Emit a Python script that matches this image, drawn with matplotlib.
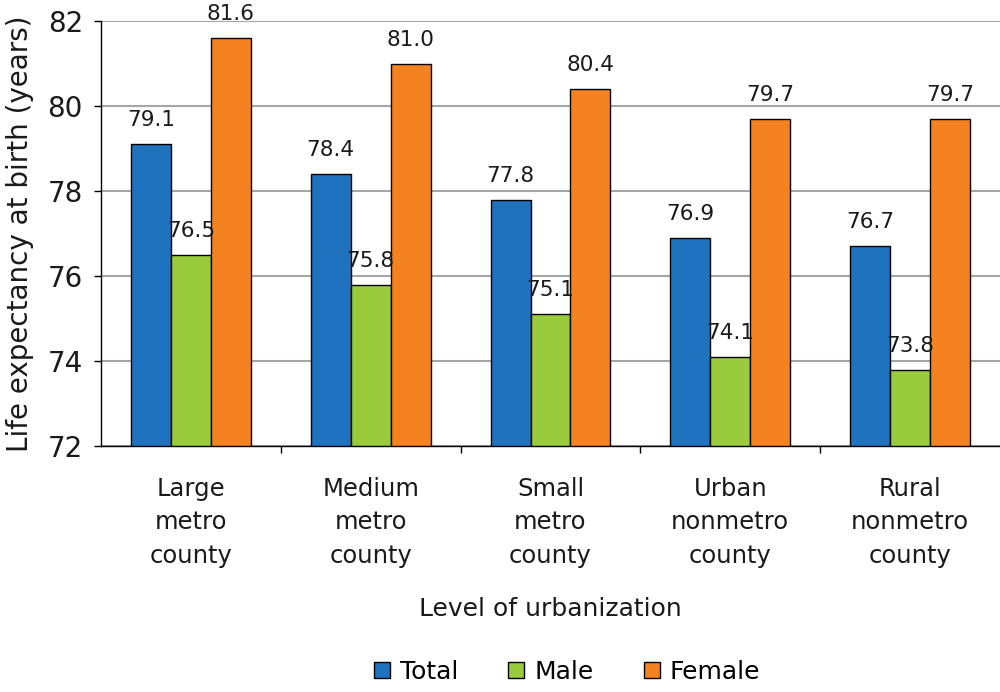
import matplotlib
matplotlib.use("Agg")
import matplotlib.pyplot as plt
import numpy as np

categories = ["Large\nmetro\ncounty", "Medium\nmetro\ncounty", "Small\nmetro\ncounty",
              "Urban\nnonmetro\ncounty", "Rural\nnonmetro\ncounty"]
total = [79.1, 78.4, 77.8, 76.9, 76.7]
male = [76.5, 75.8, 75.1, 74.1, 73.8]
female = [81.6, 81.0, 80.4, 79.7, 79.7]
series_names = ["Total", "Male", "Female"]
colors = ["#1F72BE", "#9ACB3C", "#F58220"]

plt.rcParams['font.family'] = ['DejaVu Sans']

fig = plt.figure(figsize=(10, 6.92), dpi=100)
ax = fig.add_axes([0.101, 0.3555, 0.899, 0.614])

x = np.arange(len(categories))
w = 0.222
series = [total, male, female]
bars_all = []
for i, (vals, name, c) in enumerate(zip(series, series_names, colors)):
    bars = ax.bar(x + (i - 1) * w, [v - 72 for v in vals], width=w, bottom=72,
                  color=c, edgecolor="black", linewidth=1.0, label=name, zorder=3)
    bars_all.append(bars)
    for xi, v in zip(x + (i - 1) * w, vals):
        ax.annotate(f"{v:.1f}", (xi, v), xytext=(0, 10), textcoords="offset points",
                    ha="center", va="bottom", fontsize=15.5, color="#1a1a1a", zorder=4)

ax.set_xlim(-0.5, len(categories) - 0.5)
ax.set_ylim(72, 82)
ax.set_yticks([72, 74, 76, 78, 80, 82])
ax.yaxis.grid(True, color="#A6A6A6", linewidth=1.5, zorder=0)
ax.set_axisbelow(True)
ax.set_xticks(x)
ax.set_xticklabels(categories, fontsize=17.5, color="#1a1a1a", linespacing=1.5)
ax.tick_params(axis="x", length=0, pad=22)
ax.set_xticks(np.arange(0.5, len(categories) - 0.5, 1), minor=True)
ax.tick_params(axis="x", which="minor", length=5, width=1, direction="out")
ax.tick_params(axis="y", labelsize=20, length=5, width=1, direction="out", pad=8,
               labelcolor="#1a1a1a")

for s in ["top", "right"]:
    ax.spines[s].set_visible(False)
for s in ["left", "bottom"]:
    ax.spines[s].set_color("black")
    ax.spines[s].set_linewidth(1.0)

ax.set_ylabel("Life expectancy at birth (years)", fontsize=20, color="#1a1a1a", labelpad=10)
ax.set_xlabel("Level of urbanization", fontsize=18, color="#1a1a1a", labelpad=21)

leg = fig.legend(handles=[b[0] for b in bars_all], labels=series_names,
                 loc="center", bbox_to_anchor=(0.567, 0.029), ncol=3, frameon=False,
                 fontsize=18, handlelength=0.65, handleheight=0.65, columnspacing=2.0,
                 handletextpad=0.4)

fig.savefig("out.png", dpi=100)
